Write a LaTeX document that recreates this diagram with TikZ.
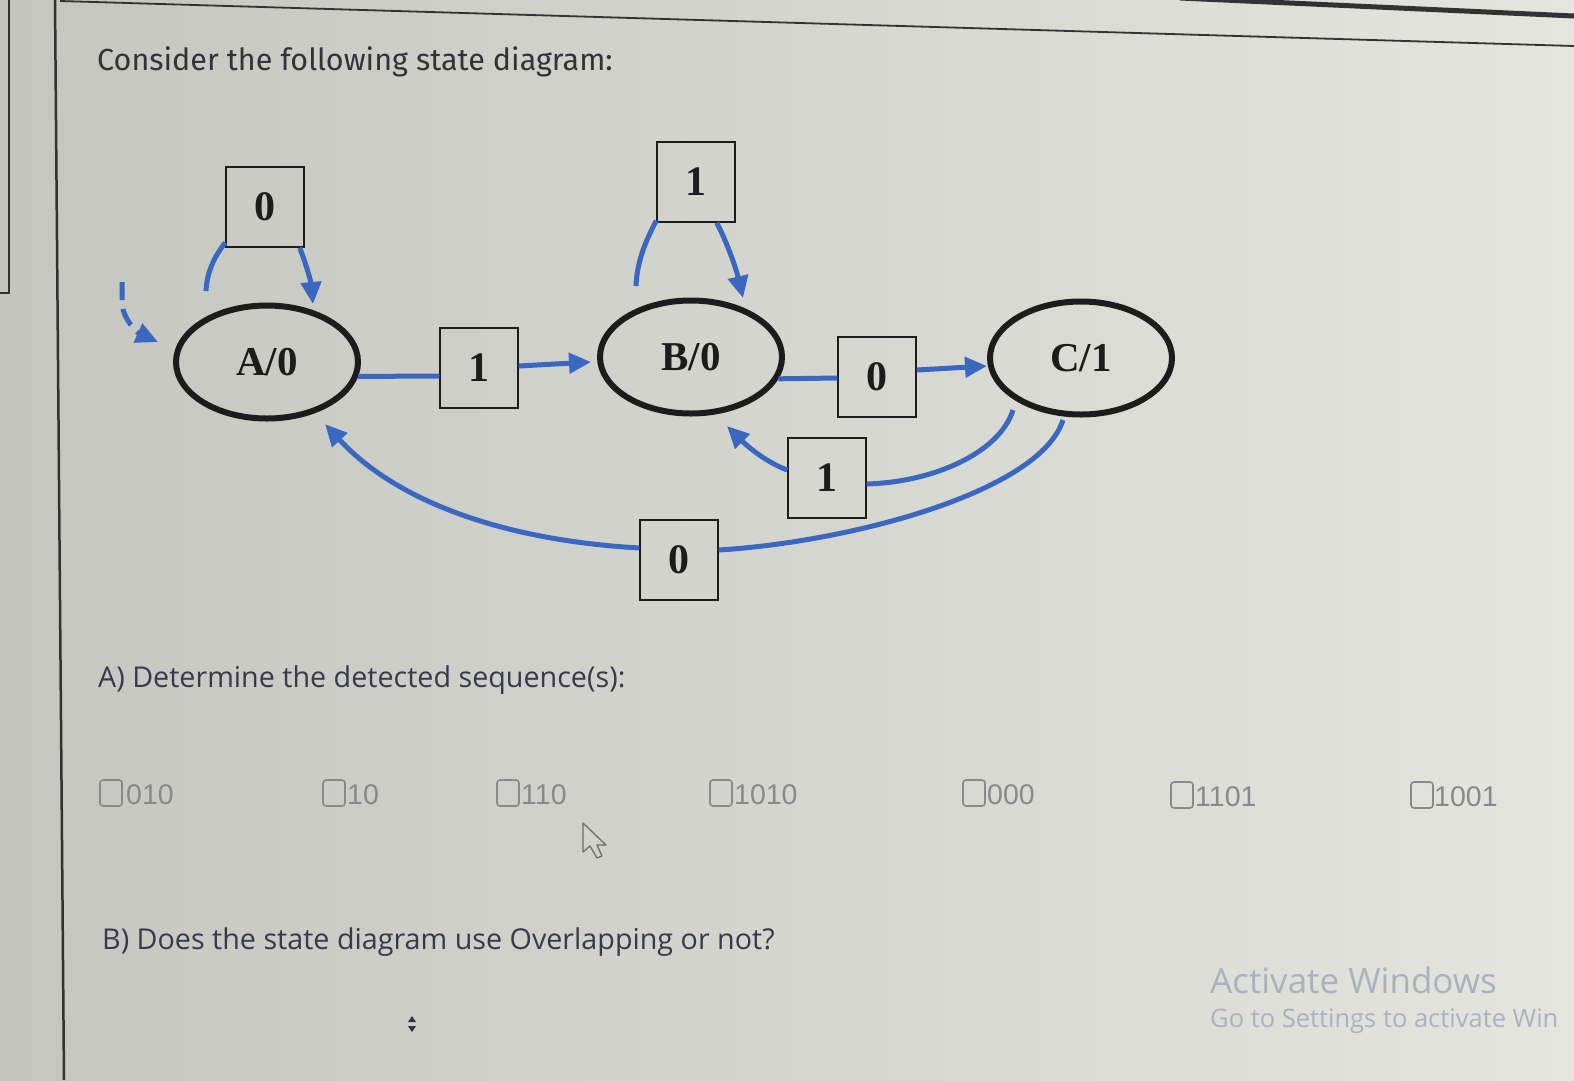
\documentclass[tikz,border=0pt]{standalone}
\usepackage{fontspec}
\setmainfont{Liberation Serif}
\newfontfamily\uifont{Open Sans}
\newfontfamily\headfont{Fira Sans}
\newfontfamily\cbfont{Liberation Sans}
\usetikzlibrary{shapes.geometric,arrows.meta,calc}
\definecolor{bgL}{RGB}{196,198,191}
\definecolor{bgR}{RGB}{228,229,223}
\definecolor{arrblue}{RGB}{58,104,192}
\definecolor{inkblack}{RGB}{28,28,28}
\definecolor{headtxt}{RGB}{50,50,56}
\definecolor{qtxt}{RGB}{56,58,76}
\definecolor{cbtxt}{RGB}{135,137,140}
\definecolor{wintxt}{RGB}{172,178,188}
\definecolor{framec}{RGB}{50,50,50}
\tikzset{
  state/.style={ellipse, draw=inkblack, line width=6pt, minimum width=182pt, minimum height=113pt, inner sep=0pt, font=\fontsize{41}{43}\selectfont\bfseries, text=inkblack},
  lbl/.style={rectangle, draw=inkblack, line width=1.4pt, minimum width=78pt, minimum height=80pt, inner sep=0pt, font=\fontsize{42}{44}\selectfont\bfseries, text=inkblack},
  edge/.style={draw=arrblue, line width=5pt},
  arr/.style={edge, -{Triangle[length=22pt,width=20pt]}},
  cbox/.style={draw=cbtxt, line width=1.6pt, rounded corners=3pt, minimum width=22pt, minimum height=26pt, inner sep=0pt},
  cblab/.style={anchor=west, text=cbtxt, font=\cbfont\fontsize{28.5}{31}\selectfont, inner sep=0pt},
  qtext/.style={anchor=west, inner sep=0pt, text=qtxt, font=\uifont\fontsize{28.7}{32}\selectfont}
}
\begin{document}
\begin{tikzpicture}[x=1pt,y=-1pt]
\useasboundingbox (0,0) rectangle (1574,1080);
\shade[left color=bgL, right color=bgR] (0,0) rectangle (1574,1080);
% frame lines
\draw[framec, line width=2pt] (9,0) -- (9,293) -- (0,293);
\draw[framec, line width=2.5pt] (55,0) -- (64,1080);
\draw[framec, line width=1.8pt] (60,1) -- (1574,46);
\draw[framec, line width=5pt] (1180,-2) -- (1574,16);

% heading
\node[anchor=west, inner sep=0pt, text=headtxt, font=\headfont\fontsize{30.5}{34}\selectfont] (head) at (97,62) {Consider the following state diagram:};

% states
\node[state] (A) at (267,362) {A/0};
\node[state] (B) at (691,357) {B/0};
\node[state] (C) at (1081,358) {C/1};

% labels
\node[lbl] (la) at (265,207) {0};
\node[lbl] (lb) at (696,182) {1};
\node[lbl] (lab) at (479,368) {1};
\node[lbl] (lbc) at (877,377) {0};
\node[lbl] (lcb) at (827,478) {1};
\node[lbl] (lca) at (679,560) {0};

% coordinates for free ends
\coordinate (i0) at (122,282);
\coordinate (i1) at (122,303);
\coordinate (tI) at (158,342);
\coordinate (sA) at (206,291);
\coordinate (tA) at (313,304);
\coordinate (sB) at (636,286);
\coordinate (tB) at (743,298);
\coordinate (tAB) at (591,362);
\coordinate (tBC) at (987,366);
\coordinate (sCB) at (1013,410);
\coordinate (tCB) at (727,426);
\coordinate (sCA) at (1063,420);
\coordinate (tCA) at (325,424);

% initial arrow
\draw[arr, dash pattern=on 18pt off 9pt] (i0) -- (i1) .. controls (123,320) and (138,333) .. (tI);

% A self loop
\draw[edge] (sA) .. controls (207,272) and (214,257) .. ($(la.south west)+(0,-5)$);
\draw[arr] ($(la.south east)+(-5,0)$) .. controls (306,264) and (311,282) .. (tA);

% B self loop
\draw[edge] (sB) .. controls (637,262) and (645,242) .. ($(lb.south west)+(0,-2)$);
\draw[arr] ($(lb.south east)+(-19,0)$) .. controls (726,240) and (736,268) .. (tB);

% A -> B
\draw[edge] (A.-9) -- ($(lab.west)+(0,8)$);
\draw[arr] ($(lab.east)+(0,-2)$) -- (tAB);

% B -> C
\draw[edge] (B.-14) -- ($(lbc.west)+(0,1)$);
\draw[arr] ($(lbc.east)+(0,-7)$) -- (tBC);

% C -> B
\draw[edge] (sCB) .. controls (1000,452) and (935,482) .. ($(lcb.east)+(0,6)$);
\draw[arr] ($(lcb.west)+(0,-8)$) .. controls (765,462) and (745,444) .. (tCB);

% C -> A
\draw[edge] (sCA) .. controls (1040,492) and (850,542) .. ($(lca.east)+(0,-10)$);
\draw[arr] ($(lca.west)+(0,-12)$) .. controls (500,540) and (395,500) .. (tCA);

% question A
\node[qtext] (qa) at (98,680) {A) Determine the detected sequence(s):};

% checkboxes
\node[cbox] (cb1) at (111,793) {}; \node[cblab] (t1) at (126,795) {010};
\node[cbox] (cb2) at (334,793) {}; \node[cblab] (t2) at (347,795) {10};
\node[cbox] (cb3) at (508,793) {}; \node[cblab] (t3) at (521,795) {110};
\node[cbox] (cb4) at (721,793) {}; \node[cblab] (t4) at (734,795) {1010};
\node[cbox] (cb5) at (974,793) {}; \node[cblab] (t5) at (987,795) {000};
\node[cbox] (cb6) at (1182,795) {}; \node[cblab] (t6) at (1195,797) {1101};
\node[cbox] (cb7) at (1422,795) {}; \node[cblab] (t7) at (1434,797) {1001};

% cursor
\draw[cbtxt!80!black, line width=1.3pt, line join=round] (583,823) -- (583,852) -- (590,846) -- (597,858) -- (602,856) -- (597,845) -- (606,845) -- cycle;

% question B
\node[qtext] (qb) at (102,942) {B) Does the state diagram use Overlapping or not?};

% spinner
\fill[headtxt] (408,1022) -- (416,1022) -- (412,1016) -- cycle;
\fill[headtxt] (408,1026) -- (416,1026) -- (412,1032) -- cycle;

% watermark
\node[anchor=west, inner sep=0pt, text=wintxt, font=\uifont\fontsize{35}{38}\selectfont] (w1) at (1210,980) {Activate Windows};
\node[anchor=west, inner sep=0pt, text=wintxt, font=\uifont\fontsize{25.5}{28}\selectfont] (w2) at (1210,1021) {Go to Settings to activate Win};
\end{tikzpicture}
\end{document}
